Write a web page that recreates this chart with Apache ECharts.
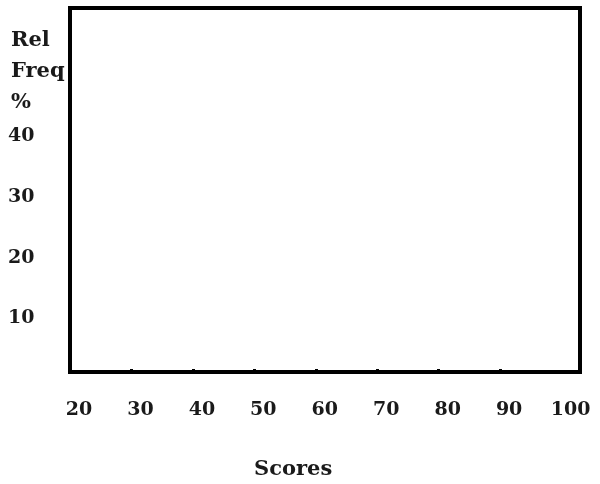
<!DOCTYPE html>
<html><head><meta charset="utf-8">
<script src="https://cdn.jsdelivr.net/npm/echarts@6/dist/echarts.min.js"></script>
<style>html,body{margin:0;padding:0;background:#fff}#c{width:600px;height:484px}</style>
</head><body><div id="c"></div>
<script>
var xTickLabels = [20, 30, 40, 50, 60, 70, 80, 90, 100];
var xTickMarks = [30, 40, 50, 60, 70, 80, 90];
var yTickLabels = [10, 20, 30, 40];
var yAxisTitle = 'Rel\nFreq\n%';
var xAxisTitle = 'Scores';
var seriesValues = [];

var font = 'DejaVu Serif';
var chart = echarts.init(document.getElementById('c'));
chart.setOption({
  animation: false,
  backgroundColor: '#fff',
  title: [
    {text: yAxisTitle, left: 6, top: 20,
     textStyle: {fontFamily: font, fontWeight: 'bold', fontSize: 21, lineHeight: 31, color: '#1a1a1a'}},
    {text: xAxisTitle, left: 249, top: 454,
     textStyle: {fontFamily: font, fontWeight: 'bold', fontSize: 21, color: '#1a1a1a'}}
  ],
  grid: {left: 70, right: 20, top: 8, bottom: 112, show: true, borderColor: '#000', borderWidth: 4, containLabel: false},
  xAxis: {
    type: 'value', min: 20, max: 103, interval: 10,
    axisLine: {show: false},
    splitLine: {show: false},
    axisTick: {show: true, inside: true, length: 3, customValues: xTickMarks, lineStyle: {color: '#000', width: 3}},
    axisLabel: {
      customValues: xTickLabels,
      margin: 29,
      padding: [0, 0, 0, 18],
      fontFamily: font, fontWeight: 'bold', fontSize: 19, color: '#1a1a1a',
      formatter: function (v) { return xTickLabels.indexOf(v) >= 0 ? String(v) : ''; }
    }
  },
  yAxis: {
    type: 'value', min: 0, max: 60, interval: 10,
    axisLine: {show: false},
    splitLine: {show: false},
    axisTick: {show: false},
    axisLabel: {
      customValues: yTickLabels,
      align: 'left',
      verticalAlign: 'top',
      lineHeight: 14,
      margin: 62,
      fontFamily: font, fontWeight: 'bold', fontSize: 19, color: '#1a1a1a',
      formatter: function (v) { return yTickLabels.indexOf(v) >= 0 ? String(v) : ''; }
    }
  },
  series: [{type: 'line', data: seriesValues, symbol: 'none'}]
});
</script>
</body></html>
